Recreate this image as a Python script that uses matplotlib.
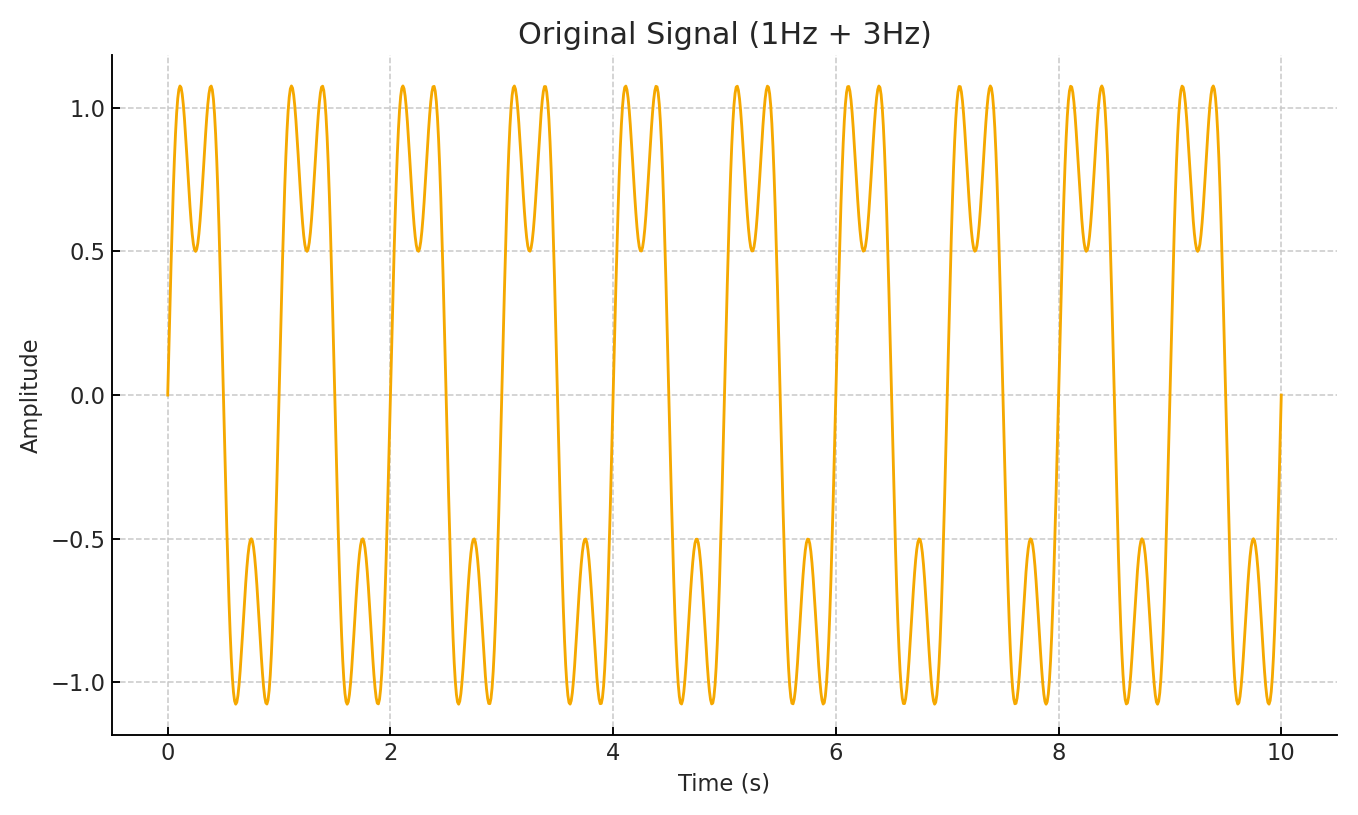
import numpy as np
import matplotlib
matplotlib.use("Agg")
import matplotlib.pyplot as plt

# signal parts (title says 1Hz + 3Hz)
freqs = [1.0, 3.0]       # Hz
amps = [1.0, 0.5]        # peak ~1.07, dip ~0.5
duration = 10.0
n_samples = 1000

t = np.linspace(0, duration, n_samples)
signal = np.zeros_like(t)
for f, a in zip(freqs, amps):
    signal += a * np.sin(2 * np.pi * f * t)

fig = plt.figure(figsize=(10, 815 / 135.8), dpi=135.8)
ax = fig.add_axes([0.0825, 0.098, 0.902, 0.8345])

ax.plot(t, signal, color="#F5A800", lw=1.5)

ax.set_title("Original Signal (1Hz + 3Hz)", fontsize=16, color="#262626")
ax.set_xlabel("Time (s)", fontsize=12, color="#262626")
ax.set_ylabel("Amplitude", fontsize=12, color="#262626")

ax.set_xticks([0, 2, 4, 6, 8, 10])
ax.set_yticks([-1.0, -0.5, 0.0, 0.5, 1.0])
ax.tick_params(direction="in", labelsize=12, length=4, width=1, colors="black")
for lab in ax.get_xticklabels() + ax.get_yticklabels():
    lab.set_color("#262626")

ax.grid(True, linestyle="--", color="#c8c8c8", linewidth=0.8)
ax.spines["top"].set_visible(False)
ax.spines["right"].set_visible(False)
for s in ["left", "bottom"]:
    ax.spines[s].set_linewidth(1.0)

fig.savefig("out.png", dpi=135.8)
